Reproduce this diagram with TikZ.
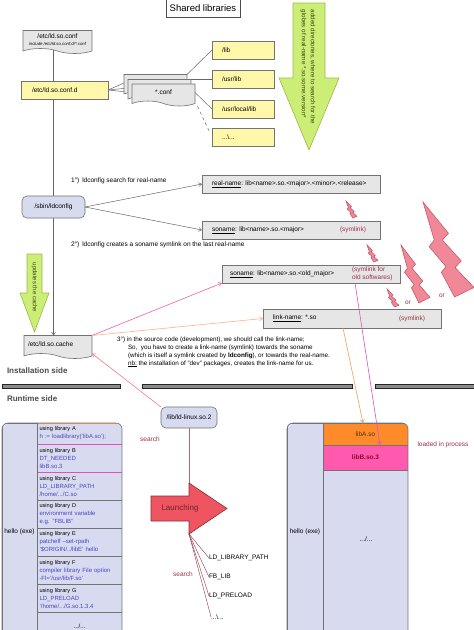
\documentclass[tikz,border=0pt]{standalone}
\usepackage{fontspec}
\setmainfont{Liberation Sans}
\usetikzlibrary{shapes.symbols,calc,arrows.meta}
\pgfdeclarelayer{bg}
\pgfsetlayers{bg,main}
\definecolor{yel}{HTML}{FFF7AA}
\definecolor{lav}{HTML}{D8DAF0}
\definecolor{gboxc}{HTML}{E6E6E6}
\definecolor{grn}{HTML}{CCEE77}
\definecolor{grnb}{HTML}{99BB44}
\definecolor{grntxt}{HTML}{3A4410}
\definecolor{boltc}{HTML}{F08898}
\definecolor{boltb}{HTML}{C05060}
\definecolor{dred}{HTML}{993344}
\definecolor{blu}{HTML}{4848C0}
\definecolor{orng}{HTML}{FF8A2A}
\definecolor{mag}{HTML}{FF5AAE}
\definecolor{launchc}{HTML}{EE5560}
\definecolor{pinkl}{HTML}{F060A8}
\definecolor{orgl}{HTML}{FFB088}
\definecolor{redl}{HTML}{F08080}
\definecolor{magl}{HTML}{E050C0}
\definecolor{orgl2}{HTML}{F0A060}
\tikzset{
  every node/.style={font=\fontsize{6.5}{8}\selectfont, inner sep=0pt, outer sep=0pt},
  boxline/.style={draw=black!55, line width=0.6pt},
  ybox/.style={boxline, fill=yel, minimum height=18, align=left},
  gbox/.style={boxline, fill=gboxc, minimum height=18, minimum width=178},
  lbox/.style={boxline, fill=lav, rounded corners=5},
  doc/.style={boxline, fill=gboxc, tape, tape bend top=none, tape bend bottom=out and in, tape bend height=5pt},
  grnarrow/.style={fill=grn, draw=grnb, line width=0.6pt},
  boltst/.style={fill=boltc, draw=boltb, line width=0.5pt},
  conn/.style={draw=black!60, line width=0.5pt},
  arr/.style={-{Straight Barb[length=3pt,width=4pt]}},
  cell/.style={boxline, fill=lav, minimum width=85, text width=80, inner xsep=2.5, align=left, text=blu, font=\fontsize{6}{8}\selectfont},
  redtxt/.style={text=dred},
  sepbar/.style={fill=black!45, draw=black!85, line width=0.5pt}
}
\newcommand{\hdr}[1]{{\color{black}\fontsize{5.6}{8}\selectfont #1}}
\newcommand{\boltat}[4]{%
  \begin{scope}[shift={(#1,#2)}, xscale=#3, yscale=#4]
    \draw[boltst] (0,0) -- (0.50,0.33) -- (0.38,0.40) -- (0.75,0.62) -- (0.63,0.69) -- (1,0.90) -- (0.62,1) -- (0.36,0.74) -- (0.45,0.68) -- (0.12,0.47) -- (0.22,0.40) -- cycle;
  \end{scope}}
\begin{document}
\begin{tikzpicture}[x=1pt,y=-1pt]
\useasboundingbox (0,0) rectangle (474,630);
\begin{pgfonlayer}{bg}
\fill[white] (0,0) rectangle (474,630);
\end{pgfonlayer}

% title
\node[draw=black!70, line width=0.5pt, fill=white, minimum width=74, minimum height=18, font=\fontsize{9.5}{11}\selectfont] (title) at (203,8) {Shared libraries};

% green arrow top
\draw[grnarrow] (293,3) -- (325,3) -- (325,78) -- (339,78) -- (309,150) -- (279,78) -- (293,78) -- cycle;
\node[rotate=-90, align=left, text=grntxt, font=\fontsize{6.2}{9}\selectfont] (addtxt) at (308,67) {added directories, where to search for the\\globes of real-name *.so.some.version*};

% config files
\node[doc, minimum width=69, minimum height=23, align=center] (conf) at (57.5,39.5) {/etc/ld.so.conf\\[-1.5pt]{\fontsize{4.3}{5}\selectfont\itshape include /etc/ld.so.conf.d/*.conf}};
\node[ybox, text width=65, inner xsep=11] (confd) at (64.5,90) {/etc/ld.so.conf.d};
\node[doc, minimum width=63, minimum height=22] (confback) at (155.5,83) {};
\node[doc, minimum width=63, minimum height=22] (confmid) at (159.5,88) {};
\node[doc, minimum width=63, minimum height=22] (conffront) at (163.5,92.5) {*.conf};

\node[ybox, text width=42, inner xsep=10] (lib) at (243,50) {/lib};
\node[ybox, text width=42, inner xsep=10] (usrlib) at (243,79) {/usr/lib};
\node[ybox, text width=42, inner xsep=10] (usrlocal) at (243,109) {/usr/local/lib};
\node[ybox, text width=42, inner xsep=10] (dots) at (243,137) {...\textbackslash...};

% ldconfig
\node[lbox, minimum width=63, minimum height=22] (ldcfg) at (53.5,207) {/sbin/ldconfig};
\node[anchor=west] (step1) at (71,181) {1°)\, ldconfig search for real-name};
\node[anchor=west] (step2) at (71,245) {2°)\, ldconfig creates a soname symlink on the last real-name};

\node[gbox] (realname) at (291,184) {};
\node[anchor=west] (realtxt) at (212,184) {\underline{real-name}: lib<name>.so.<major>.<minor>.<release>};
\node[gbox] (soname) at (291,230) {};
\node[anchor=west] (sotxt) at (212,230) {\underline{soname}: lib<name>.so.<major>};
\node[redtxt] (sosym) at (353,230) {(symlink)};
\node[gbox] (oldsoname) at (311,274) {};
\node[anchor=west] (oldtxt) at (230,274) {\underline{soname}: lib<name>.so.<old\_major>};
\node[redtxt, anchor=west, align=left] (oldsym) at (352,274) {(symlink for\\old softwares)};
\node[gbox, minimum height=19] (linkname) at (352,318.5) {};
\node[anchor=west] (linktxt) at (273,318.5) {\underline{link-name}: *.so};
\node[redtxt] (linksym) at (412,318.5) {(symlink)};

% bolts
\boltat{346}{201}{11}{17}
\boltat{367}{245}{11}{17}
\boltat{387}{289}{12}{18}
\boltat{401}{245}{29}{58}
\boltat{423}{202}{51}{95}
\node[redtxt] (or1) at (408,303) {or};
\node[redtxt] (or2) at (442,296) {or};

% cache
\node[doc, minimum width=68, minimum height=23, text width=60, inner xsep=4, align=left] (cache) at (58,344.5) {/etc/ld.so.cache};
\draw[grnarrow] (27,254) -- (42,254) -- (42,293) -- (49,293) -- (34.5,332) -- (20,293) -- (27,293) -- cycle;
\node[rotate=-90, text=grntxt, font=\fontsize{6}{8}\selectfont] (updtxt) at (34.5,287.5) {updates the cache};

% note 3
\node[anchor=north west, align=left, font=\fontsize{6.3}{8}\selectfont] (note3) at (117,336.5) {3°) in the source code (development), we should call the link-name;\\
\hspace*{11pt}So,\ \ you have to create a link-name (symlink) towards the soname\\
\hspace*{11pt}(which is itself a symlink created by \textbf{ldconfig}), or towards the real-name.\\
\hspace*{11pt}\underline{nb:} the installation of "dev" packages, creates the link-name for us.};

% sides
\node[anchor=west, text=black!70, font=\fontsize{8}{9}\bfseries] (inst) at (7,371) {Installation side};
\node[anchor=west, text=black!70, font=\fontsize{8}{9}\bfseries] (runt) at (7,399) {Runtime side};
\draw[sepbar] (2,384.5) rectangle (120,388.5);
\draw[sepbar] (142,384.5) rectangle (352,388.5);
\draw[sepbar] (375,384.5) rectangle (476,388.5);

% ld-linux and launching
\node[lbox, minimum width=56, minimum height=21] (ldlinux) at (189,417.5) {/lib/ld-linux.so.2};
\node[redtxt] (search1) at (150,439) {search};
\draw[fill=launchc, draw=black!45!launchc, line width=0.6pt] (151,496) -- (189,496) -- (189,483) -- (227,508.5) -- (189,534) -- (189,521) -- (151,521) -- cycle;
\coordinate (ltop) at (189,483);
\coordinate (lbot) at (189,534);
\node[text=black!30!dred, font=\fontsize{8}{9}\selectfont] (launch) at (180,508) {Launching};
\node[anchor=west] (lp1) at (209,558) {LD\_LIBRARY\_PATH};
\node[anchor=west] (lp2) at (209,577) {FB\_LIB};
\node[anchor=west] (lp3) at (209,596) {LD\_PRELOAD};
\node[anchor=west] (lp4) at (211,617) {...\textbackslash...};
\node[redtxt] (search2) at (183,574) {search};

% left stack
\begin{scope}
\clip[rounded corners=6] (2,640) |- (122,423) -- (122,640) -- cycle;
\fill[lav] (2,423) rectangle (122,640);
\node[cell, minimum height=21, draw=orng!80] (cA) at (79.5,433.5) {\hdr{using library A}\\h := loadlibrary('libA.so');};
\node[cell, minimum height=28] (cC) at (79.5,486) {\hdr{using library C}\\LD\_LIBRARY\_PATH\\/home/.../C.so};
\node[cell, minimum height=28] (cD) at (79.5,514) {\hdr{using library D}\\environment variable\\e.g. "FBLIB"};
\node[cell, minimum height=28] (cE) at (79.5,542) {\hdr{using library E}\\patchelf --set-rpath\\'\$ORIGIN/../libE' hello};
\node[cell, minimum height=28] (cF) at (79.5,570) {\hdr{using library F}\\compiler library File option\\-Fl='/usr/lib/F.so'};
\node[cell, minimum height=28] (cG) at (79.5,598) {\hdr{using library G}\\LD\_PRELOAD\\'/home/.../G.so.1.3.4};
\node[cell, minimum height=28, align=center] (cH) at (79.5,626) {\color{black}.../...};
\node[cell, minimum height=28, draw=magl, line width=1pt] (cB) at (79.5,458) {\hdr{using library B}\\DT\_NEEDED\\libB.so.3};
\node[boxline, fill=lav, minimum width=35, minimum height=217] (hello1) at (19.5,531.5) {hello (exe)};
\end{scope}
\draw[boxline, rounded corners=6] (2,640) |- (122,423) -- (122,640);

% right stack
\begin{scope}
\clip[rounded corners=6] (287,640) |- (408,423) -- (408,640) -- cycle;
\fill[lav] (287,423) rectangle (408,640);
\node[boxline, fill=orng, minimum width=85, minimum height=22, text=black!60!brown] (libA) at (365.5,434) {libA.so};
\node[boxline, fill=mag, minimum width=85, minimum height=25, text=black!20!purple, font=\fontsize{6.5}{8}\bfseries] (libB) at (365.5,457.5) {libB.so.3};
\node[boxline, fill=lav, minimum width=85, minimum height=170] (rest) at (365.5,555) {};
\node (restdots) at (366,539) {.../...};
\node[boxline, fill=lav, minimum width=36, minimum height=217] (hello2) at (305,531.5) {hello (exe)};
\end{scope}
\draw[boxline, rounded corners=6] (287,640) |- (408,423) -- (408,640);
\node[redtxt] (loaded) at (443,445) {loaded in process};

% connectors behind boxes
\begin{pgfonlayer}{bg}
\draw[conn, arr] (conf.south -| ldcfg.center) -- (cache.north -| ldcfg.center);
\draw[conn] (confd.east) -- (confback.west);
\draw[conn] (confd.east) -- (confmid.west);
\draw[conn] (confd.east) -- (conffront.west);
\draw[conn] (confback.north east) -- (lib.west);
\draw[conn] (usrlib.west -| confmid.east) -- (usrlib.west);
\draw[conn] (conffront.east) -- (usrlocal.west);
\draw[conn, dashed, shorten <=6pt, shorten >=6pt] (conffront.south east) -- (dots.west);
\end{pgfonlayer}

% connectors on top
\draw[conn, arr] (ldcfg.east) -- (realname.west);
\draw[conn, arr] (ldcfg.east) -- (soname.west);
\draw[draw=pinkl, line width=0.6pt, arr] (cache.north east) -- (oldsoname.south west);
\draw[draw=orgl, line width=0.6pt, arr] (cache.north east) -- (linkname.west);
\draw[draw=redl, line width=0.6pt, arr] (ldlinux.north west) -- (cache.south east);
\draw[draw=redl!80!black, line width=0.5pt] (ldlinux.south) -- (ltop);
\draw[draw=dred, line width=0.4pt] (lbot) -- (lp1.west);
\draw[draw=dred, line width=0.4pt] (lbot) -- (lp2.west);
\draw[draw=dred, line width=0.4pt] (lbot) -- (lp3.west);
\draw[draw=dred, line width=0.4pt] (lbot) -- (lp4.west);
\draw[draw=orgl2, line width=0.6pt, arr] ($(linkname.south)+(-9,0)$) -- ($(libA.north)+(-2.5,0)$);
\draw[draw=magl, line width=0.6pt, arr] ($(oldsoname.south)+(44,0)$) -- ($(libB.north)+(14.5,0)$);
\end{tikzpicture}
\end{document}
